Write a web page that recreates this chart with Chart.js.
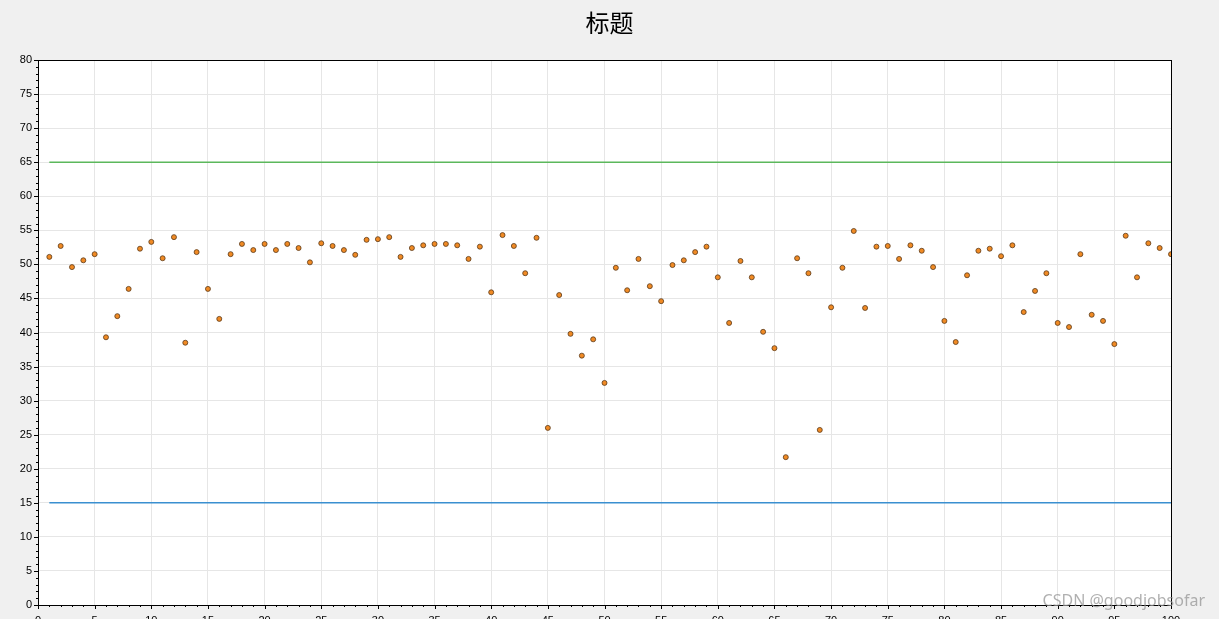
<!DOCTYPE html>
<html>
<head>
<meta charset="utf-8">
<script src="https://cdn.jsdelivr.net/npm/chart.js@4"></script>
<style>
  body { margin: 0; background: #f0f0f0; }
  #wrap { position: relative; width: 1219px; height: 619px; overflow: hidden; }
  #title { position: absolute; top: 4px; left: 0; width: 1219px; text-align: center;
           font: 24px "Noto Sans CJK SC", sans-serif; color: #000; }
  #mark { position: absolute; right: 14px; top: 589px; font: 16px "Noto Sans", sans-serif;
          color: rgba(150,150,150,0.75); }
  canvas { position: absolute; left: 0; top: 0; }
</style>
</head>
<body>
<div id="wrap">
  <canvas id="myChart" width="1219" height="619"></canvas>
  <div id="title">标题</div>
  <div id="mark">CSDN @goodjobsofar</div>
</div>
<script>
const xs = [];
for (let i = 1; i <= 100; i++) xs.push(i);
const values = [51.1, 52.7, 49.6, 50.6, 51.5, 39.3, 42.4, 46.4, 52.3, 53.3,
  50.9, 54.0, 38.5, 51.8, 46.4, 42.0, 51.5, 53.0, 52.1, 53.0,
  52.1, 53.0, 52.4, 50.3, 53.1, 52.7, 52.1, 51.4, 53.6, 53.7,
  54.0, 51.1, 52.4, 52.8, 53.0, 53.0, 52.8, 50.8, 52.6, 45.9,
  54.3, 52.7, 48.7, 53.9, 26.0, 45.5, 39.8, 36.6, 39.0, 32.6,
  49.5, 46.2, 50.8, 46.8, 44.6, 49.9, 50.6, 51.8, 52.6, 48.1,
  41.4, 50.5, 48.1, 40.1, 37.7, 21.7, 50.9, 48.7, 25.7, 43.7,
  49.5, 54.9, 43.6, 52.6, 52.7, 50.8, 52.8, 52.0, 49.6, 41.7,
  38.6, 48.4, 52.0, 52.3, 51.2, 52.8, 43.0, 46.1, 48.7, 41.4,
  40.8, 51.5, 42.6, 41.7, 38.3, 54.2, 48.1, 53.1, 52.4, 51.5];
const upperLimit = 65;
const lowerLimit = 15;

const areaBg = {
  id: 'areaBg',
  beforeDraw(chart) {
    const a = chart.chartArea, c = chart.ctx;
    c.save(); c.fillStyle = '#fff';
    c.fillRect(a.left, a.top, a.right - a.left, a.bottom - a.top);
    c.restore();
  },
  afterDraw(chart) {
    const a = chart.chartArea, c = chart.ctx;
    const x = chart.scales.x, y = chart.scales.y;
    c.save();
    c.strokeStyle = '#000'; c.lineWidth = 1;
    c.strokeRect(a.left + 0.5, a.top + 0.5, a.right - a.left, a.bottom - a.top);
    for (let v = 0; v <= 80; v++) {
      const p = Math.round(y.getPixelForValue(v)) + 0.5;
      c.beginPath(); c.moveTo(a.left - (v % 5 ? 2 : 4), p); c.lineTo(a.left, p); c.stroke();
    }
    for (let v = 0; v <= 100; v++) {
      const p = Math.round(x.getPixelForValue(v)) + 0.5;
      c.beginPath(); c.moveTo(p, a.bottom); c.lineTo(p, a.bottom + (v % 5 ? 2 : 4)); c.stroke();
    }
    c.restore();
  }
};

const ctx = document.getElementById('myChart');
const chart = new Chart(ctx, {
  data: {
    datasets: [{
      type: 'line',
      data: [{ x: 1, y: upperLimit }, { x: 100, y: upperLimit }],
      borderColor: '#5cb85c', borderWidth: 1.5, pointRadius: 0
    }, {
      type: 'line',
      data: [{ x: 1, y: lowerLimit }, { x: 100, y: lowerLimit }],
      borderColor: '#3a8fd0', borderWidth: 1.5, pointRadius: 0
    }, {
      type: 'scatter',
      data: xs.map((x, i) => ({ x: x, y: values[i] })),
      backgroundColor: '#f08a24', borderColor: '#5a3a1a', borderWidth: 0.8, pointRadius: 2.5
    }]
  },
  options: {
    responsive: false,
    animation: false,
    layout: { padding: { top: 60, right: 48, left: 0, bottom: 0 } },
    plugins: { legend: { display: false }, tooltip: { enabled: false } },
    scales: {
      x: {
        type: 'linear', min: 0, max: 100,
        ticks: { stepSize: 5, color: '#000', font: { size: 11 }, padding: 9 },
        grid: { color: '#e6e6e6', drawTicks: false },
        border: { display: false },
        afterFit(s) { s.height = 14; }
      },
      y: {
        min: 0, max: 80,
        ticks: { stepSize: 5, color: '#000', font: { size: 11 }, padding: 6 },
        grid: { color: '#e6e6e6', drawTicks: false },
        border: { display: false },
        afterFit(s) { s.width = 38; }
      }
    }
  },
  plugins: [areaBg]
});
</script>
</body>
</html>
